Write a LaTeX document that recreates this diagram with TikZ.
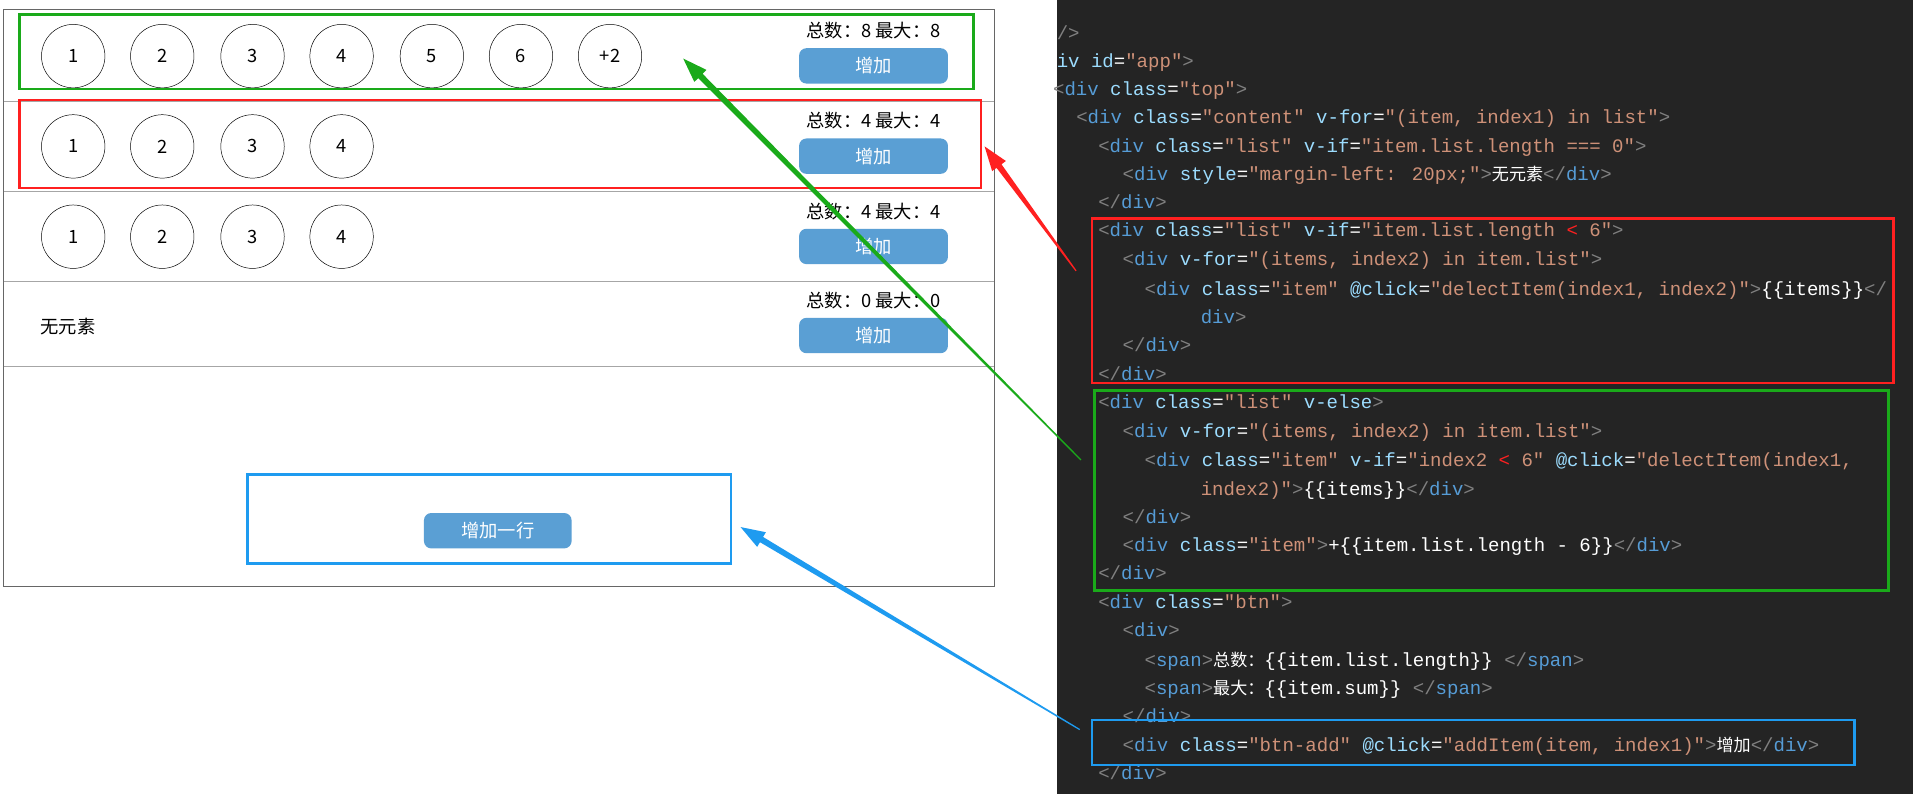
\documentclass[tikz,border=0pt]{standalone}
\usepackage{fontspec}
\setmainfont{Noto Sans CJK SC}
\newfontfamily\cjk{Noto Sans CJK SC}
\newfontfamily\codefont{Liberation Mono}
\usetikzlibrary{calc}
\definecolor{btnblue}{HTML}{5A9FD4}
\definecolor{tagc}{HTML}{569CD6}
\definecolor{attc}{HTML}{9CDCFE}
\definecolor{strc}{HTML}{CE9178}
\definecolor{brk}{HTML}{808080}
\definecolor{gbox}{HTML}{1AAA1A}
\definecolor{rbox}{HTML}{FF2020}
\definecolor{bbox}{HTML}{1E9BF0}
\newcommand\tg[1]{\textcolor{tagc}{#1}}
\newcommand\at[1]{\textcolor{attc}{#1}}
\newcommand\st[1]{\textcolor{strc}{#1}}
\newcommand\bk[1]{\textcolor{brk}{#1}}
\newcommand\cz[1]{{\cjk\fontsize{14}{14}\selectfont #1}}
\tikzset{
 circ/.style={circle,draw,minimum size=52pt,inner sep=0pt,font=\fontsize{15}{15}\selectfont},
 addbtn/.style={fill=btnblue,rounded corners=6pt,minimum width=122pt,minimum height=29pt,inner sep=0pt,text=white,font=\fontsize{15}{15}\selectfont},
 stat/.style={font=\fontsize{15}{15}\selectfont,inner sep=0pt},
 code/.style={anchor=base west,inner sep=0pt,text=white,font=\codefont\fontsize{15.6}{16}\selectfont},
 sep/.style={draw=gray!70,line width=0.6pt},
}
\newcommand\taper[3]{%
 \coordinate (hb) at ($(#2)!20pt!(#1)$);
 \fill[#3] ($(#1)!0.5pt!90:(#2)$) -- ($(hb)!2.5pt!-90:(#1)$) -- ($(hb)!7pt!-90:(#1)$) -- (#2)
   -- ($(hb)!7pt!90:(#1)$) -- ($(hb)!2.5pt!90:(#1)$) -- ($(#1)!0.5pt!-90:(#2)$) -- cycle;}
\begin{document}
\begin{tikzpicture}[x=1pt,y=-1pt]
\useasboundingbox (0,0) rectangle (1568,651);
\fill[white] (0,0) rectangle (866,651);
\fill[black!86] (866,0) rectangle (1568,651);
% left UI
\draw[gray!80!black,line width=0.7pt] (3,8) rectangle (815,481);
\draw[sep] (3,83) -- (815,83);
\draw[sep] (3,157) -- (815,157);
\draw[sep] (3,231) -- (815,231);
\draw[sep] (3,300) -- (815,300);
\foreach \x/\t [count=\i] in {60/1,133/2,207/3,280/4,354/5,427/6,500/+2}
  \node[circ] (a\i) at (\x,46) {\t};
\foreach \x/\t [count=\i] in {60/1,133/2,207/3,280/4}{
  \node[circ] (b\i) at (\x,120) {\t};
  \node[circ] (c\i) at (\x,194) {\t};}
\node[stat] (s1) at (716,25) {总数：8 最大：8};
\node[stat] (s2) at (716,99) {总数：4 最大：4};
\node[stat] (s3) at (716,173) {总数：4 最大：4};
\node[stat] (s4) at (716,246) {总数：0 最大：0};
\node[addbtn] (p1) at (716,54) {增加};
\node[addbtn] (p2) at (716,128) {增加};
\node[addbtn] (p3) at (716,202) {增加};
\node[addbtn] (p4) at (716,275) {增加};
\node[stat,anchor=west] (none) at (33,268) {无元素};
\node[addbtn,minimum width=121pt] (addrow) at (408,435) {增加一行};
\draw[gbox,line width=2pt] (16,12) rectangle (798,73);
\draw[rbox,line width=2pt] (16,82) rectangle (804,154);
\draw[bbox,line width=2pt] (203,389) rectangle (599,462);
% code
\node[code] at (866,32) {\bk{/>}};
\node[code] at (866,55) {\at{iv id}=\st{"app"}\bk{>}};
\node[code] at (863,78) {\bk{<}\tg{div} \at{class}=\st{"top"}\bk{>}};
\node[code] at (882,101) {\bk{<}\tg{div} \at{class}=\st{"content"} \at{v-for}=\st{"(item, index1) in list"}\bk{>}};
\node[code] at (900,125) {\bk{<}\tg{div} \at{class}=\st{"list"} \at{v-if}=\st{"item.list.length === 0"}\bk{>}};
\node[code] at (920,148) {\bk{<}\tg{div} \at{style}=\st{"margin-left: 20px;"}\bk{>}\cz{无元素}\bk{</}\tg{div}\bk{>}};
\node[code] at (900,171) {\bk{</}\tg{div}\bk{>}};
\node[code] at (900,194) {\bk{<}\tg{div} \at{class}=\st{"list"} \at{v-if}=\st{"item.list.length \textcolor{rbox}{<} 6"}\bk{>}};
\node[code] at (920,218) {\bk{<}\tg{div} \at{v-for}=\st{"(items, index2) in item.list"}\bk{>}};
\node[code] at (938,242) {\bk{<}\tg{div} \at{class}=\st{"item"} \at{@click}=\st{"delectItem(index1, index2)"}\bk{>}\{\{items\}\}\bk{</}};
\node[code] at (984,265) {\tg{div}\bk{>}};
\node[code] at (920,288) {\bk{</}\tg{div}\bk{>}};
\node[code] at (900,312) {\bk{</}\tg{div}\bk{>}};
\node[code] at (900,335) {\bk{<}\tg{div} \at{class}=\st{"list"} \at{v-else}\bk{>}};
\node[code] at (920,359) {\bk{<}\tg{div} \at{v-for}=\st{"(items, index2) in item.list"}\bk{>}};
\node[code] at (938,382) {\bk{<}\tg{div} \at{class}=\st{"item"} \at{v-if}=\st{"index2 \textcolor{rbox}{<} 6"} \at{@click}=\st{"delectItem(index1,}};
\node[code] at (984,406) {\st{index2)"}\bk{>}\{\{items\}\}\bk{</}\tg{div}\bk{>}};
\node[code] at (920,429) {\bk{</}\tg{div}\bk{>}};
\node[code] at (920,452) {\bk{<}\tg{div} \at{class}=\st{"item"}\bk{>}+\{\{item.list.length - 6\}\}\bk{</}\tg{div}\bk{>}};
\node[code] at (900,475) {\bk{</}\tg{div}\bk{>}};
\node[code] at (900,499) {\bk{<}\tg{div} \at{class}=\st{"btn"}\bk{>}};
\node[code] at (920,522) {\bk{<}\tg{div}\bk{>}};
\node[code] at (938,546) {\bk{<}\tg{span}\bk{>}\cz{总数：}\{\{item.list.length\}\} \bk{</}\tg{span}\bk{>}};
\node[code] at (938,569) {\bk{<}\tg{span}\bk{>}\cz{最大：}\{\{item.sum\}\} \bk{</}\tg{span}\bk{>}};
\node[code] at (920,592) {\bk{</}\tg{div}\bk{>}};
\node[code] at (920,616) {\bk{<}\tg{div} \at{class}=\st{"btn-add"} \at{@click}=\st{"addItem(item, index1)"}\bk{>}\cz{增加}\bk{</}\tg{div}\bk{>}};
\node[code] at (900,639) {\bk{</}\tg{div}\bk{>}};
\draw[rbox,line width=2pt] (895,179) rectangle (1552,314);
\draw[gbox,line width=2pt] (897,320) rectangle (1548,484);
\draw[bbox,line width=2pt] (895,590) rectangle (1520,627);
% arrows
\coordinate (gt) at (886,377); \coordinate (gh) at (560,48);
\coordinate (rt) at (882,222); \coordinate (rh) at (807,120);
\coordinate (bt) at (885,598); \coordinate (bh) at (607,432);
\taper{gt}{gh}{gbox}
\taper{rt}{rh}{rbox}
\taper{bt}{bh}{bbox}
\end{tikzpicture}
\end{document}
